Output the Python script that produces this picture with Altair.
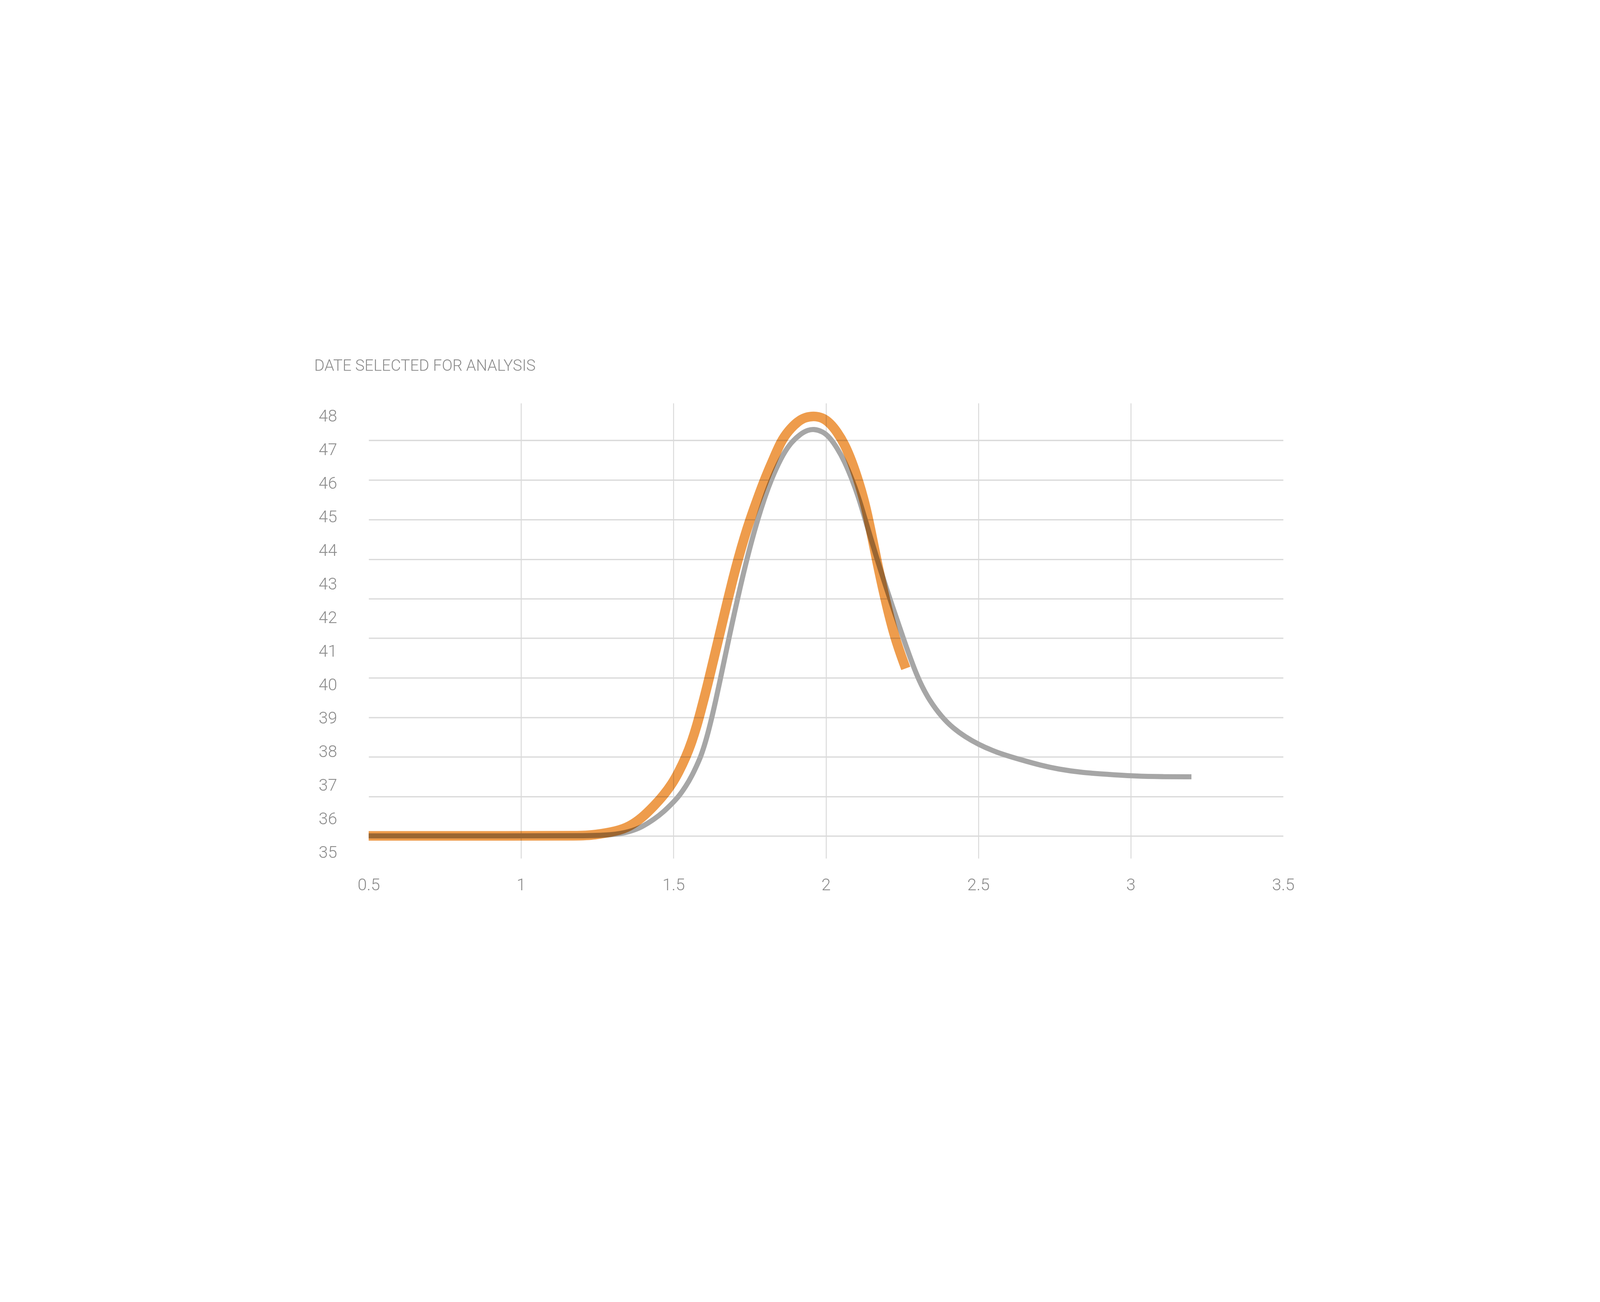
import altair as alt
import pandas as pd

# ---- data ----
gray_x = [0.50, 1.00, 1.20, 1.30, 1.356, 1.396, 1.436, 1.467, 1.496, 1.516, 1.541, 1.561,
          1.577, 1.589, 1.605, 1.621, 1.637, 1.652, 1.667, 1.684, 1.700, 1.718, 1.736,
          1.756, 1.776, 1.798, 1.820, 1.852, 1.883, 1.917, 1.941, 1.960, 1.989, 2.013,
          2.037, 2.061, 2.085, 2.110, 2.134, 2.168, 2.210, 2.254, 2.300, 2.340, 2.381,
          2.417, 2.457, 2.497, 2.557, 2.638, 2.705, 2.761, 2.842, 2.929, 3.012, 3.103,
          3.199]
gray_y = [35.50, 35.50, 35.50, 35.52, 35.62, 35.76, 35.99, 36.21, 36.47, 36.66, 36.98, 37.30,
          37.61, 37.85, 38.29, 38.84, 39.47, 40.10, 40.75, 41.48, 42.15, 42.88, 43.57,
          44.28, 44.92, 45.55, 46.10, 46.75, 47.20, 47.48, 47.59, 47.62, 47.55, 47.37,
          47.05, 46.66, 46.14, 45.51, 44.76, 43.73, 42.55, 41.38, 40.20, 39.52, 39.03,
          38.71, 38.45, 38.24, 37.99, 37.77, 37.60, 37.49, 37.38, 37.33, 37.28, 37.26,
          37.26]

orange_x = [0.50, 1.00, 1.20, 1.235, 1.316, 1.356, 1.396, 1.436, 1.467, 1.496, 1.516, 1.541,
            1.561, 1.577, 1.589, 1.605, 1.618, 1.633, 1.648, 1.663, 1.678, 1.695, 1.713,
            1.732, 1.751, 1.773, 1.795, 1.812, 1.828, 1.852, 1.876, 1.909, 1.933, 1.960,
            1.989, 2.013, 2.037, 2.061, 2.085, 2.110, 2.128, 2.145, 2.166, 2.194, 2.226,
            2.262]
orange_y = [35.50, 35.50, 35.50, 35.52, 35.64, 35.78, 36.03, 36.39, 36.70, 37.06, 37.38, 37.85,
            38.33, 38.80, 39.20, 39.76, 40.24, 40.81, 41.38, 41.96, 42.53, 43.16, 43.78,
            44.38, 44.92, 45.48, 46.02, 46.40, 46.73, 47.24, 47.56, 47.86, 47.97, 48.01,
            47.96, 47.80, 47.53, 47.17, 46.66, 45.98, 45.40, 44.70, 43.73, 42.55, 41.38,
            40.49]

x_labels = [0.5, 1, 1.5, 2, 2.5, 3, 3.5]
x_grid = [1, 1.5, 2, 2.5, 3]
y_labels = [35, 36, 37, 38, 39, 40, 41, 42, 43, 44, 45, 46, 47, 48]
y_grid = [35.50, 36.67, 37.85, 39.03, 40.21, 41.39, 42.56, 43.74, 44.92, 46.10, 47.28]

title_text = "DATE SELECTED FOR ANALYSIS"

gray_df = pd.DataFrame({"x": gray_x, "y": gray_y})
orange_df = pd.DataFrame({"x": orange_x, "y": orange_y})

FONT = "Roboto"
TXT = "#8b8b8b"
GRID = "#dadada"

xscale = alt.Scale(domain=[0.5, 3.5], nice=False, zero=False)
yscale = alt.Scale(domain=[34.83, 48.39], nice=False, zero=False)

gray = alt.Chart(gray_df).mark_line(
    color="#a6a6a6", strokeWidth=16, interpolate="basis"
).encode(
    x=alt.X("x:Q", scale=xscale, title=None,
            axis=alt.Axis(orient="top", values=x_grid, labels=False, ticks=False,
                          domain=False, grid=True, gridColor=GRID, gridWidth=3)),
    y=alt.Y("y:Q", scale=yscale, title=None,
            axis=alt.Axis(orient="right", values=y_grid, labels=False, ticks=False,
                          domain=False, grid=True, gridColor=GRID, gridWidth=4)),
)

orange = alt.Chart(orange_df).mark_line(
    color="#ee9c4c", strokeWidth=30, interpolate="basis", blend="multiply"
).encode(
    x=alt.X("x:Q", scale=xscale, title=None,
            axis=alt.Axis(orient="bottom", values=x_labels, format="~g", grid=False,
                          ticks=False, tickSize=0, domain=False, labelPadding=83,
                          labelFlush=False, labelBaseline="middle", labelFont=FONT,
                          labelFontSize=52, labelFontWeight=300, labelColor=TXT)),
    y=alt.Y("y:Q", scale=yscale, title=None,
            axis=alt.Axis(orient="left", values=y_labels, format="~g", grid=False,
                          ticks=False, tickSize=0, domain=False, labelPadding=99,
                          labelFlush=False, labelFont=FONT, labelFontSize=52,
                          labelFontWeight=300, labelColor=TXT)),
)

# canvas fills the 5000x3333 window (minus the 8px page margin)
chart = alt.layer(gray, orange).resolve_axis(x="independent", y="independent").properties(
    width=2857,
    height=1422,
    padding={"left": 1142, "top": 885, "right": 980, "bottom": 1003},
    autosize=alt.AutoSizeParams(type="none"),
    background="white",
    title=alt.TitleParams(
        text=title_text, anchor="start", frame="group", dx=-170, offset=34,
        baseline="alphabetic", font=FONT, fontSize=49, fontWeight=300, color=TXT,
    ),
).configure_view(stroke=None)

chart.save("out.html", embed_options={"renderer": "svg", "actions": False})
